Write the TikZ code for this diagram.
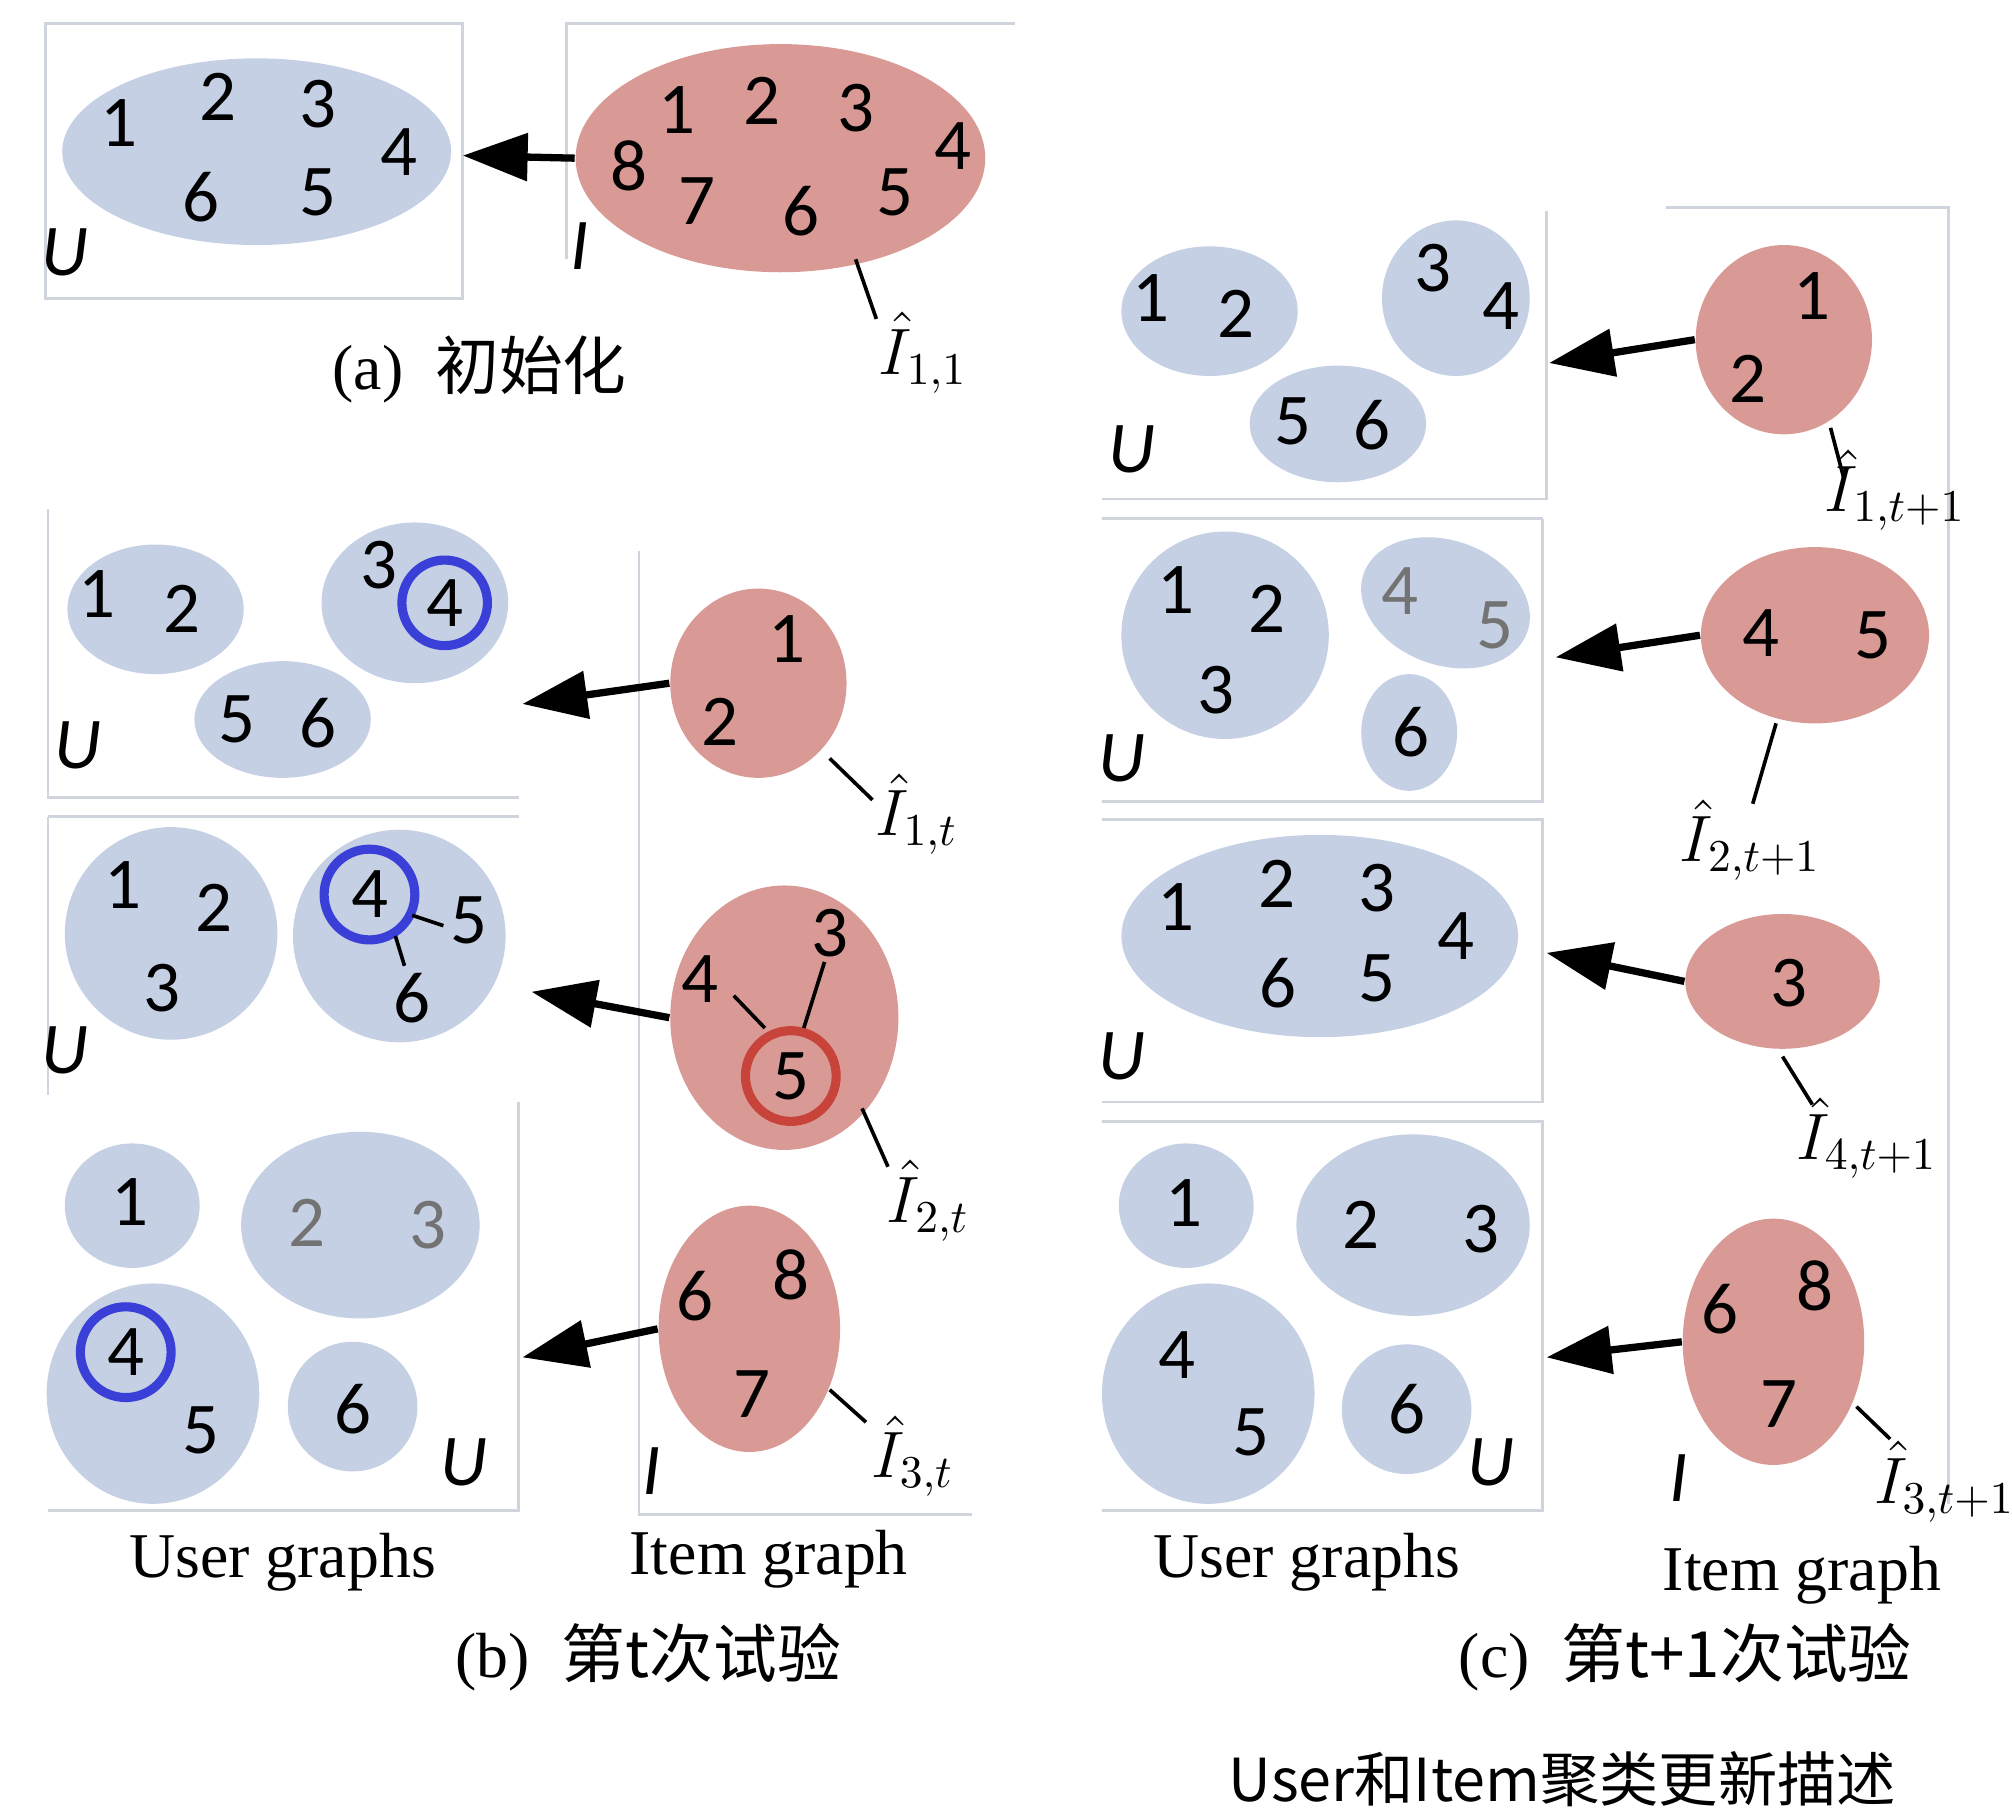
\documentclass[tikz,border=0pt]{standalone}
\usepackage{fontspec}
\setmainfont{Liberation Serif}
\setsansfont{Carlito}
\newfontfamily\cjk{Noto Sans CJK SC}
\usetikzlibrary{shapes.geometric,arrows.meta}
\definecolor{ub}{HTML}{C5D0E4}
\definecolor{ip}{HTML}{D99A96}
\definecolor{bc}{HTML}{3A3FD8}
\definecolor{rc}{HTML}{C8443A}
\definecolor{bx}{HTML}{D0D4DC}
\tikzset{
 ug/.style={ellipse,fill=ub,inner sep=0pt},
 ig/.style={ellipse,fill=ip,inner sep=0pt},
 wh/.style 2 args={minimum width=#1*0.1mm,minimum height=#2*0.1mm},
 num/.style={font=\sffamily\fontsize{16}{18}\selectfont},
 gnum/.style={num,text=black!55},
 lab/.style={font=\sffamily\itshape\fontsize{16}{18}\selectfont},
 hatlab/.style={font=\fontsize{14}{16}\selectfont},
 frame/.style={draw=bx,line width=0.6pt},
 arr/.style={line width=1.6pt,-{Triangle[length=5mm,width=3.6mm]}},
 lead/.style={line width=0.8pt},
 captxt/.style={font=\fontsize{14}{16}\selectfont},
 hl/.style={circle,line width=2pt,minimum size=6.8mm,inner sep=0pt}
}
\newcommand{\nm}[3]{\node[num] at (#1,#2) {#3};}
\newcommand{\gn}[3]{\node[gnum] at (#1,#2) {#3};}
\begin{document}
\begin{tikzpicture}[x=0.1mm,y=-0.1mm]
\useasboundingbox (0,0) rectangle (1552,1398);
% ---------- (a)
\draw[frame] (35,18) rectangle (357,230);
\draw[frame] (437,200) -- (437,18) -- (783,18);
\node[ug,wh={300}{144}] (aU) at (198,117) {};
\nm{92}{95}{1}\nm{168}{75}{2}\nm{245}{80}{3}\nm{308}{117}{4}\nm{155}{152}{6}\nm{245}{148}{5}
\node[lab] (aUl) at (50,195) {U};
\node[ig,wh={316}{176}] (aI) at (602,122) {};
\nm{522}{85}{1}\nm{588}{78}{2}\nm{660}{83}{3}\nm{735}{113}{4}\nm{485}{128}{8}\nm{538}{155}{7}\nm{618}{163}{6}\nm{690}{148}{5}
\node[lab] (aIl) at (447,190) {I};
\coordinate (aT) at (357,120);
\draw[arr] (aI.west) -- (aT);
\node[hatlab] (ah) at (712,272) {$\hat{I}_{1,1}$};
\draw[lead] (660,200) -- (676,246);
\node[captxt] (acap) at (370,285) {(a)\ \ {\cjk 初始化}};
% ---------- (b)
\draw[frame] (37,393) -- (37,615) -- (400,615);
\draw[frame] (37,630) -- (400,630);\draw[frame] (37,630) -- (37,845);
\draw[frame] (37,1165) -- (400,1165) -- (400,850);
\draw[frame] (493,425) -- (493,1168) -- (750,1168);
\node[ug,wh={136}{100}] (b1) at (120,470) {};
\nm{75}{458}{1}\nm{140}{470}{2}
\node[ug,wh={144}{124}] (b2) at (320,465) {};
\nm{292}{436}{3}\nm{343}{465}{4}\node[hl,draw=bc,minimum size=6.6mm] (bc1) at (343,465) {};
\node[ug,wh={136}{90}] (b3) at (218,555) {};
\nm{183}{555}{5}\nm{245}{558}{6}
\node[lab] (bU1) at (60,575) {U};
\node[ug,wh={164}{164}] (b4) at (132,720) {};
\nm{95}{683}{1}\nm{165}{700}{2}\nm{125}{762}{3}
\node[ug,wh={164}{164}] (b5) at (308,722) {};
\nm{285}{690}{4}\nm{362}{710}{5}\nm{318}{770}{6}
\node[hl,draw=bc,minimum size=7mm] (bc2) at (285,690) {};
\draw[lead] (318,706) -- (342,714);\draw[lead] (305,722) -- (312,745);
\node[lab] (bU2) at (50,810) {U};
\node[ug,wh={104}{96}] (b6) at (102,930) {};
\nm{100}{927}{1}
\node[ug,wh={184}{144}] (b7) at (278,945) {};
\gn{237}{943}{2}\gn{330}{945}{3}
\node[ug,wh={164}{170}] (b8) at (118,1075) {};
\nm{97}{1043}{4}\nm{155}{1103}{5}
\node[hl,draw=bc,minimum size=7mm] (bc3) at (97,1043) {};
\node[ug,wh={100}{100}] (b9) at (272,1085) {};
\nm{272}{1087}{6}
\node[lab] (bU3) at (358,1128) {U};
\node[ig,wh={136}{146}] (bi1) at (585,527) {};
\nm{607}{493}{1}\nm{555}{557}{2}
\draw[lead] (640,585) -- (673,617);
\node[hatlab] (bh1) at (707,628) {$\hat{I}_{1,t}$};
\coordinate (bt1) at (403,543);\draw[arr] (bi1.west) -- (bt1);
\node[ig,wh={176}{204}] (bi2) at (605,785) {};
\nm{540}{755}{4}\nm{640}{720}{3}\nm{610}{830}{5}
\node[hl,draw=rc,minimum size=7mm] (rc1) at (610,830) {};
\draw[lead] (566,768) -- (590,793);\draw[lead] (636,742) -- (620,793);
\draw[lead] (665,855) -- (685,900);
\node[hatlab] (bh2) at (716,926) {$\hat{I}_{2,t}$};
\coordinate (bt2) at (410,765);\draw[arr] (bi2.west) -- (bt2);
\node[ig,wh={140}{190}] (bi3) at (578,1025) {};
\nm{536}{1000}{6}\nm{610}{983}{8}\nm{580}{1075}{7}
\draw[lead] (640,1072) -- (668,1097);
\node[hatlab] (bh3) at (704,1123) {$\hat{I}_{3,t}$};
\node[lab] (bIl) at (503,1135) {I};
\coordinate (bt3) at (403,1047);\draw[arr] (bi3.west) -- (bt3);
\node[captxt] (bc4) at (218,1205) {User graphs};
\node[captxt] (bc5) at (593,1203) {Item graph};
\node[captxt] (bc6) at (500,1278) {(b)\ \ {\cjk 第t次试验}};
% ---------- (c)
\draw[frame] (850,385) -- (1193,385) -- (1193,163);
\draw[frame] (1285,160) -- (1503,160) -- (1503,1160);
\draw[frame] (850,400) -- (1190,400);\draw[frame] (850,618) -- (1190,618) -- (1190,400);
\draw[frame] (850,632) -- (1190,632) -- (1190,850) -- (850,850);
\draw[frame] (850,865) -- (1190,865) -- (1190,1165) -- (850,1165);
\node[ug,wh={136}{100}] (c1) at (933,240) {};
\nm{888}{230}{1}\nm{953}{242}{2}
\node[ug,wh={114}{120}] (c2) at (1123,230) {};
\nm{1105}{207}{3}\nm{1158}{236}{4}
\node[ug,wh={136}{90}] (c3) at (1032,327) {};
\nm{997}{325}{5}\nm{1058}{328}{6}
\node[lab] (cU1) at (873,347) {U};
\node[ig,wh={136}{146}] (ci1) at (1376,262) {};
\nm{1398}{228}{1}\nm{1348}{292}{2}
\draw[lead] (1412,330) -- (1422,368);
\node[hatlab] (ch1) at (1462,378) {$\hat{I}_{1,t+1}$};
\coordinate (ct1) at (1195,280);\draw[arr] (ci1.west) -- (ct1);
\node[ug,wh={160}{160}] (c4) at (945,490) {};
\nm{907}{455}{1}\nm{977}{470}{2}\nm{938}{532}{3}
\node[ug,wh={134}{96},rotate=-20] (c5) at (1115,465) {};
\gn{1080}{456}{4}\gn{1153}{482}{5}
\node[ug,wh={74}{90}] (c6) at (1087,565) {};
\nm{1088}{565}{6}
\node[lab] (cU2) at (865,585) {U};
\node[ig,wh={176}{136}] (ci2) at (1400,490) {};
\nm{1358}{488}{4}\nm{1445}{490}{5}
\draw[lead] (1370,558) -- (1352,620);
\node[hatlab] (ch2) at (1350,648) {$\hat{I}_{2,t+1}$};
\coordinate (ct2) at (1200,507);\draw[arr] (ci2.west) -- (ct2);
\node[ug,wh={306}{156}] (c7) at (1018,722) {};
\nm{907}{700}{1}\nm{985}{682}{2}\nm{1062}{685}{3}\nm{1123}{722}{4}\nm{986}{758}{6}\nm{1062}{755}{5}
\node[lab] (cU3) at (865,815) {U};
\node[ig,wh={150}{104}] (ci3) at (1375,757) {};
\nm{1380}{758}{3}
\draw[lead] (1375,815) -- (1398,852);
\node[hatlab] (ch3) at (1440,878) {$\hat{I}_{4,t+1}$};
\coordinate (ct3) at (1193,735);\draw[arr] (ci3.west) -- (ct3);
\node[ug,wh={104}{96}] (c8) at (915,930) {};
\nm{913}{928}{1}
\node[ug,wh={180}{140}] (c9) at (1090,945) {};
\nm{1050}{945}{2}\nm{1142}{948}{3}
\node[ug,wh={164}{170}] (c10) at (932,1075) {};
\nm{908}{1045}{4}\nm{965}{1105}{5}
\node[ug,wh={100}{100}] (c11) at (1085,1087) {};
\nm{1085}{1087}{6}
\node[lab] (cU4) at (1150,1128) {U};
\node[ig,wh={140}{190}] (ci4) at (1368,1035) {};
\nm{1327}{1010}{6}\nm{1400}{992}{8}\nm{1372}{1083}{7}
\draw[lead] (1432,1085) -- (1458,1110);
\node[hatlab] (ch4) at (1500,1143) {$\hat{I}_{3,t+1}$};
\node[lab] (cIl) at (1295,1140) {I};
\coordinate (ct4) at (1193,1047);\draw[arr] (ci4.west) -- (ct4);
\node[captxt] (cc1) at (1008,1205) {User graphs};
\node[captxt] (cc2) at (1390,1215) {Item graph};
\node[captxt] (cc3) at (1300,1278) {(c)\ \ {\cjk 第t+1次试验}};
\node[font=\cjk\fontsize{13}{15}\selectfont] (title) at (1205,1372) {User和Item聚类更新描述};
\end{tikzpicture}
\end{document}
